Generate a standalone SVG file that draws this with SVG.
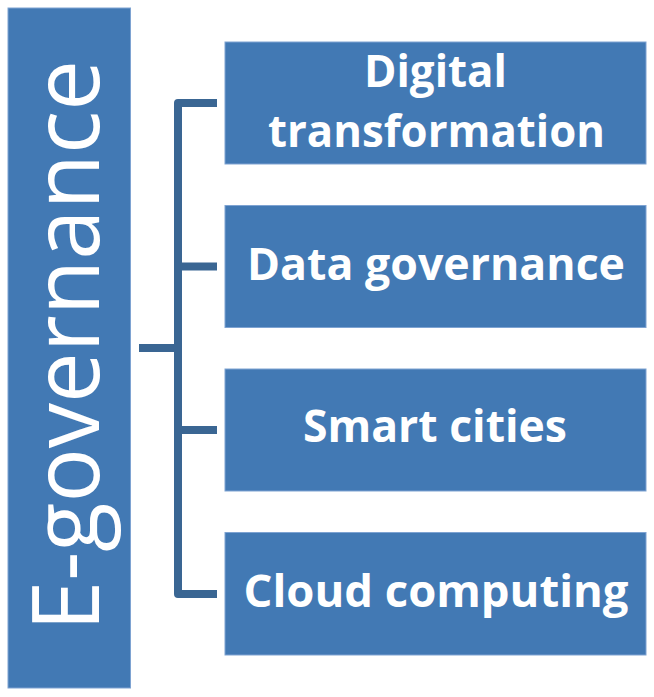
<svg xmlns="http://www.w3.org/2000/svg" width="654" height="697" viewBox="0 0 654 697">
<style>
.box{fill:#4279b4;stroke:#7ea3d2;stroke-width:1}
.lbl{fill:#ffffff;font-family:"Open Sans","Liberation Sans",sans-serif;font-weight:bold;font-size:44px;text-anchor:middle}
.title{fill:#ffffff;font-family:"Open Sans","Liberation Sans",sans-serif;font-size:94px}
.conn{fill:none;stroke:#3a6693;stroke-width:8;stroke-linejoin:round}
</style>
<rect width="654" height="697" fill="#ffffff"/>
<g id="root">
<rect class="box" x="8" y="8" width="122.5" height="680"/>
<text class="title" transform="translate(99,631) rotate(-90)" x="0" y="0" textLength="571" lengthAdjust="spacingAndGlyphs">E-governance</text>
</g>
<g id="connectors">
<path class="conn" d="M217,103 H178 V594 H217"/>
<path class="conn" d="M178,266.5 H217"/>
<path class="conn" d="M178,430 H217"/>
<path class="conn" d="M139,348 H178"/>
</g>
<g id="node1">
<rect class="box" x="225" y="42" width="421" height="122"/>
<text class="lbl" x="435.5" y="87" textLength="143" lengthAdjust="spacingAndGlyphs">Digital</text>
<text class="lbl" x="436.5" y="147" textLength="337" lengthAdjust="spacingAndGlyphs">transformation</text>
</g>
<g id="node2">
<rect class="box" x="225" y="205.5" width="421" height="122"/>
<text class="lbl" x="436" y="280" textLength="378" lengthAdjust="spacingAndGlyphs">Data governance</text>
</g>
<g id="node3">
<rect class="box" x="225" y="369" width="421" height="122"/>
<text class="lbl" x="435" y="441.5" textLength="264" lengthAdjust="spacingAndGlyphs">Smart cities</text>
</g>
<g id="node4">
<rect class="box" x="225" y="532.5" width="421" height="122.5"/>
<text class="lbl" x="436" y="607" textLength="385" lengthAdjust="spacingAndGlyphs">Cloud computing</text>
</g>
</svg>
